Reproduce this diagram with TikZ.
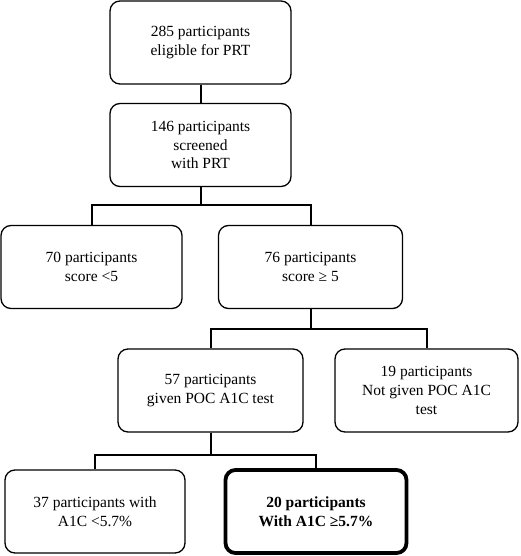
\documentclass[tikz,border=0pt]{standalone}
\usepackage{fontspec}
\setmainfont{Liberation Serif}
\usepackage{tikz}
\tikzset{
    pbox/.style={draw=black, line width=1.3pt, rounded corners=10pt, align=center,
        minimum width=181pt, minimum height=83pt, inner sep=2pt,
        font=\fontsize{15.5}{18.8}\selectfont},
    hbox/.style={pbox, line width=3.8pt, font=\fontsize{15.5}{18.8}\selectfont\bfseries},
    link/.style={line width=2pt}
}

\begin{document}
\begin{tikzpicture}[x=1pt, y=1pt]
                        \useasboundingbox (0, 0) rectangle (520, -556);

                        \node[pbox] (elig) at (200.5, -42.5) {285 participants\\eligible for PRT};
                        \node[pbox] (scrn) at (200.5, -145) {146 participants\\screened\\with PRT};

                        \node[pbox] (low) at (91.5, -267) {70 participants\\score <5};
                        \node[pbox, minimum width=184pt] (high) at (310.5, -267) {76 participants\\score ≥ 5};

                        \node[pbox, minimum width=185pt] (given) at (210.5, -390.5) {57 participants\\given POC A1C test};
                        \node[pbox, minimum width=183pt] (notgiven) at (426.5, -390.5) {19 participants\\Not given POC A1C\\test};

                        \node[pbox, minimum width=180pt] (normal) at (95, -511.5) {37 participants with\\A1C <5.7\%};
                        \node[hbox, minimum width=181pt] (raised) at (316, -511.5) {20 participants\\With A1C ≥5.7\%};

                        \draw[link] (elig) -- (scrn);
                        \draw[link]
                        (scrn.south) -- ++(0, -18) -| (low.north)
                        (scrn.south) -- ++(0, -18) -| (high.north);
                        \draw[link]
                        (high.south) -- ++(0, -20) -| (given.north)
                        (high.south) -- ++(0, -20) -| (notgiven.north);
                        \draw[link]
                        (given.south) -- ++(0, -22) -| (normal.north)
                        (given.south) -- ++(0, -22) -| (raised.north);
                    \end{tikzpicture}
\end{document}
